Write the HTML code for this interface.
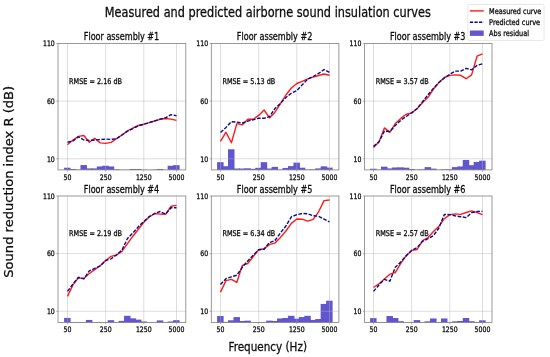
<!DOCTYPE html>
<html lang="en"><head><meta charset="utf-8"><title>Measured and predicted airborne sound insulation curves</title>
<style>html,body{margin:0;padding:0;background:#fff}svg{display:block}text{font-family:'DejaVu Sans', 'Liberation Sans', sans-serif;fill:#0c0c0c;stroke:#0c0c0c;stroke-width:0.3px}</style></head><body>
<svg width="550" height="357" viewBox="0 0 550 357">
<rect width="550" height="357" fill="#fff"/>
<g><rect x="64.10" y="167.71" width="6.5" height="2.19" fill="#6256cf"/><rect x="69.55" y="168.98" width="6.5" height="0.92" fill="#6256cf"/><rect x="75.00" y="169.55" width="6.5" height="0.35" fill="#6256cf"/><rect x="80.45" y="165.06" width="6.5" height="4.84" fill="#6256cf"/><rect x="85.90" y="168.40" width="6.5" height="1.50" fill="#6256cf"/><rect x="91.35" y="168.40" width="6.5" height="1.50" fill="#6256cf"/><rect x="96.80" y="166.44" width="6.5" height="3.46" fill="#6256cf"/><rect x="102.25" y="165.75" width="6.5" height="4.15" fill="#6256cf"/><rect x="107.70" y="166.44" width="6.5" height="3.46" fill="#6256cf"/><rect x="113.15" y="169.32" width="6.5" height="0.58" fill="#6256cf"/><rect x="118.60" y="169.67" width="6.5" height="0.23" fill="#6256cf"/><rect x="124.05" y="169.67" width="6.5" height="0.23" fill="#6256cf"/><rect x="129.50" y="168.98" width="6.5" height="0.92" fill="#6256cf"/><rect x="134.95" y="168.98" width="6.5" height="0.92" fill="#6256cf"/><rect x="140.40" y="169.67" width="6.5" height="0.23" fill="#6256cf"/><rect x="145.85" y="169.78" width="6.5" height="0.12" fill="#6256cf"/><rect x="151.30" y="169.55" width="6.5" height="0.35" fill="#6256cf"/><rect x="156.75" y="168.98" width="6.5" height="0.92" fill="#6256cf"/><rect x="162.20" y="169.78" width="6.5" height="0.12" fill="#6256cf"/><rect x="167.65" y="165.75" width="6.5" height="4.15" fill="#6256cf"/><rect x="173.10" y="165.17" width="6.5" height="4.73" fill="#6256cf"/><line x1="67.50" y1="43.5" x2="67.50" y2="169.9" stroke="#b0b0b0" stroke-opacity="0.55" stroke-width="0.8"/><line x1="105.65" y1="43.5" x2="105.65" y2="169.9" stroke="#b0b0b0" stroke-opacity="0.55" stroke-width="0.8"/><line x1="143.80" y1="43.5" x2="143.80" y2="169.9" stroke="#b0b0b0" stroke-opacity="0.55" stroke-width="0.8"/><line x1="176.50" y1="43.5" x2="176.50" y2="169.9" stroke="#b0b0b0" stroke-opacity="0.55" stroke-width="0.8"/><line x1="58.0" y1="158.77" x2="185.8" y2="158.77" stroke="#b0b0b0" stroke-opacity="0.55" stroke-width="0.8"/><line x1="58.0" y1="101.12" x2="185.8" y2="101.12" stroke="#b0b0b0" stroke-opacity="0.55" stroke-width="0.8"/><polyline points="67.50,144.7 72.95,140.0 78.40,136.4 83.85,135.5 89.30,142.3 94.75,138.3 100.20,142.9 105.65,143.4 111.10,142.4 116.55,138.7 122.00,135.0 127.45,130.9 132.90,128.0 138.35,125.5 143.80,124.2 149.25,122.7 154.70,121.0 160.15,119.3 165.60,118.5 171.05,119.1 176.50,120.4" fill="none" stroke="#ff1a1a" stroke-width="1.4" stroke-linejoin="round" stroke-linecap="butt"/><polyline points="67.50,142.3 72.95,141.0 78.40,136.8 83.85,140.0 89.30,140.4 94.75,140.0 100.20,139.6 105.65,139.1 111.10,139.4 116.55,138.7 122.00,135.0 127.45,131.2 132.90,128.6 138.35,125.8 143.80,124.2 149.25,122.7 154.70,120.8 160.15,119.1 165.60,117.8 171.05,114.6 176.50,115.7" fill="none" stroke="#0a0a8c" stroke-width="1.4" stroke-dasharray="3.7 1.5" stroke-linejoin="round"/><rect x="58.0" y="43.5" width="127.80" height="126.40" fill="none" stroke="#808080" stroke-width="0.8"/><line x1="67.50" y1="169.9" x2="67.50" y2="171.70000000000002" stroke="#808080" stroke-width="0.6"/><text transform="translate(67.50 179.70) scale(0.82 1)" font-size="7.6" text-anchor="middle">50</text><line x1="105.65" y1="169.9" x2="105.65" y2="171.70000000000002" stroke="#808080" stroke-width="0.6"/><text transform="translate(105.65 179.70) scale(0.82 1)" font-size="7.6" text-anchor="middle">250</text><line x1="143.80" y1="169.9" x2="143.80" y2="171.70000000000002" stroke="#808080" stroke-width="0.6"/><text transform="translate(143.80 179.70) scale(0.82 1)" font-size="7.6" text-anchor="middle">1250</text><line x1="176.50" y1="169.9" x2="176.50" y2="171.70000000000002" stroke="#808080" stroke-width="0.6"/><text transform="translate(176.50 179.70) scale(0.82 1)" font-size="7.6" text-anchor="middle">5000</text><line x1="56.2" y1="158.77" x2="58.0" y2="158.77" stroke="#808080" stroke-width="0.6"/><text transform="translate(54.80 161.57) scale(0.82 1)" font-size="7.6" text-anchor="end">10</text><line x1="56.2" y1="101.12" x2="58.0" y2="101.12" stroke="#808080" stroke-width="0.6"/><text transform="translate(54.80 103.92) scale(0.82 1)" font-size="7.6" text-anchor="end">60</text><line x1="56.2" y1="43.47" x2="58.0" y2="43.47" stroke="#808080" stroke-width="0.6"/><text transform="translate(54.80 46.27) scale(0.82 1)" font-size="7.6" text-anchor="end">110</text><text transform="translate(121.50 40.10) scale(0.81 1)" font-size="10.0" text-anchor="middle">Floor assembly #1</text><text transform="translate(69.10 83.80) scale(0.822 1)" font-size="7.9" text-anchor="start">RMSE = 2.16 dB</text></g>
<g><rect x="217.10" y="162.17" width="6.5" height="7.73" fill="#6256cf"/><rect x="222.55" y="166.21" width="6.5" height="3.69" fill="#6256cf"/><rect x="228.00" y="149.26" width="6.5" height="20.64" fill="#6256cf"/><rect x="233.45" y="168.52" width="6.5" height="1.38" fill="#6256cf"/><rect x="238.90" y="168.52" width="6.5" height="1.38" fill="#6256cf"/><rect x="244.35" y="168.29" width="6.5" height="1.61" fill="#6256cf"/><rect x="249.80" y="168.86" width="6.5" height="1.04" fill="#6256cf"/><rect x="255.25" y="167.82" width="6.5" height="2.08" fill="#6256cf"/><rect x="260.70" y="162.17" width="6.5" height="7.73" fill="#6256cf"/><rect x="266.15" y="168.52" width="6.5" height="1.38" fill="#6256cf"/><rect x="271.60" y="166.90" width="6.5" height="3.00" fill="#6256cf"/><rect x="277.05" y="169.55" width="6.5" height="0.35" fill="#6256cf"/><rect x="282.50" y="167.94" width="6.5" height="1.96" fill="#6256cf"/><rect x="287.95" y="166.10" width="6.5" height="3.80" fill="#6256cf"/><rect x="293.40" y="162.64" width="6.5" height="7.26" fill="#6256cf"/><rect x="298.85" y="167.71" width="6.5" height="2.19" fill="#6256cf"/><rect x="304.30" y="169.55" width="6.5" height="0.35" fill="#6256cf"/><rect x="309.75" y="169.32" width="6.5" height="0.58" fill="#6256cf"/><rect x="315.20" y="168.40" width="6.5" height="1.50" fill="#6256cf"/><rect x="320.65" y="166.33" width="6.5" height="3.57" fill="#6256cf"/><rect x="326.10" y="167.59" width="6.5" height="2.31" fill="#6256cf"/><line x1="220.50" y1="43.5" x2="220.50" y2="169.9" stroke="#b0b0b0" stroke-opacity="0.55" stroke-width="0.8"/><line x1="258.65" y1="43.5" x2="258.65" y2="169.9" stroke="#b0b0b0" stroke-opacity="0.55" stroke-width="0.8"/><line x1="296.80" y1="43.5" x2="296.80" y2="169.9" stroke="#b0b0b0" stroke-opacity="0.55" stroke-width="0.8"/><line x1="329.50" y1="43.5" x2="329.50" y2="169.9" stroke="#b0b0b0" stroke-opacity="0.55" stroke-width="0.8"/><line x1="211.3" y1="158.77" x2="338.9" y2="158.77" stroke="#b0b0b0" stroke-opacity="0.55" stroke-width="0.8"/><line x1="211.3" y1="101.12" x2="338.9" y2="101.12" stroke="#b0b0b0" stroke-opacity="0.55" stroke-width="0.8"/><polyline points="220.50,141.4 225.95,132.2 231.40,142.8 236.85,123.6 242.30,124.9 247.75,119.2 253.20,119.2 258.65,115.4 264.10,110.0 269.55,117.9 275.00,112.2 280.45,103.6 285.90,95.0 291.35,88.0 296.80,83.5 302.25,81.4 307.70,78.8 313.15,77.2 318.60,75.5 324.05,74.0 329.50,75.3" fill="none" stroke="#ff1a1a" stroke-width="1.4" stroke-linejoin="round" stroke-linecap="butt"/><polyline points="220.50,132.4 225.95,127.5 231.40,121.7 236.85,122.1 242.30,123.0 247.75,121.1 253.20,119.8 258.65,118.2 264.10,118.3 269.55,116.6 275.00,108.4 280.45,103.3 285.90,97.5 291.35,93.3 296.80,90.5 302.25,84.8 307.70,79.1 313.15,76.5 318.60,73.4 324.05,69.5 329.50,72.5" fill="none" stroke="#0a0a8c" stroke-width="1.4" stroke-dasharray="3.7 1.5" stroke-linejoin="round"/><rect x="211.3" y="43.5" width="127.60" height="126.40" fill="none" stroke="#808080" stroke-width="0.8"/><line x1="220.50" y1="169.9" x2="220.50" y2="171.70000000000002" stroke="#808080" stroke-width="0.6"/><text transform="translate(220.50 179.70) scale(0.82 1)" font-size="7.6" text-anchor="middle">50</text><line x1="258.65" y1="169.9" x2="258.65" y2="171.70000000000002" stroke="#808080" stroke-width="0.6"/><text transform="translate(258.65 179.70) scale(0.82 1)" font-size="7.6" text-anchor="middle">250</text><line x1="296.80" y1="169.9" x2="296.80" y2="171.70000000000002" stroke="#808080" stroke-width="0.6"/><text transform="translate(296.80 179.70) scale(0.82 1)" font-size="7.6" text-anchor="middle">1250</text><line x1="329.50" y1="169.9" x2="329.50" y2="171.70000000000002" stroke="#808080" stroke-width="0.6"/><text transform="translate(329.50 179.70) scale(0.82 1)" font-size="7.6" text-anchor="middle">5000</text><line x1="209.5" y1="158.77" x2="211.3" y2="158.77" stroke="#808080" stroke-width="0.6"/><text transform="translate(208.10 161.57) scale(0.82 1)" font-size="7.6" text-anchor="end">10</text><line x1="209.5" y1="101.12" x2="211.3" y2="101.12" stroke="#808080" stroke-width="0.6"/><text transform="translate(208.10 103.92) scale(0.82 1)" font-size="7.6" text-anchor="end">60</text><line x1="209.5" y1="43.47" x2="211.3" y2="43.47" stroke="#808080" stroke-width="0.6"/><text transform="translate(208.10 46.27) scale(0.82 1)" font-size="7.6" text-anchor="end">110</text><text transform="translate(274.58 40.10) scale(0.81 1)" font-size="10.0" text-anchor="middle">Floor assembly #2</text><text transform="translate(222.40 83.80) scale(0.822 1)" font-size="7.9" text-anchor="start">RMSE = 5.13 dB</text></g>
<g><rect x="370.10" y="168.75" width="6.5" height="1.15" fill="#6256cf"/><rect x="375.55" y="169.67" width="6.5" height="0.23" fill="#6256cf"/><rect x="381.00" y="166.67" width="6.5" height="3.23" fill="#6256cf"/><rect x="386.45" y="168.40" width="6.5" height="1.50" fill="#6256cf"/><rect x="391.90" y="167.48" width="6.5" height="2.42" fill="#6256cf"/><rect x="397.35" y="167.36" width="6.5" height="2.54" fill="#6256cf"/><rect x="402.80" y="167.71" width="6.5" height="2.19" fill="#6256cf"/><rect x="408.25" y="168.98" width="6.5" height="0.92" fill="#6256cf"/><rect x="413.70" y="169.55" width="6.5" height="0.35" fill="#6256cf"/><rect x="419.15" y="169.32" width="6.5" height="0.58" fill="#6256cf"/><rect x="424.60" y="167.13" width="6.5" height="2.77" fill="#6256cf"/><rect x="430.05" y="168.63" width="6.5" height="1.27" fill="#6256cf"/><rect x="435.50" y="169.67" width="6.5" height="0.23" fill="#6256cf"/><rect x="440.95" y="169.32" width="6.5" height="0.58" fill="#6256cf"/><rect x="446.40" y="169.32" width="6.5" height="0.58" fill="#6256cf"/><rect x="451.85" y="167.13" width="6.5" height="2.77" fill="#6256cf"/><rect x="457.30" y="166.44" width="6.5" height="3.46" fill="#6256cf"/><rect x="462.75" y="159.98" width="6.5" height="9.92" fill="#6256cf"/><rect x="468.20" y="165.17" width="6.5" height="4.73" fill="#6256cf"/><rect x="473.65" y="161.94" width="6.5" height="7.96" fill="#6256cf"/><rect x="479.10" y="160.68" width="6.5" height="9.22" fill="#6256cf"/><line x1="373.50" y1="43.5" x2="373.50" y2="169.9" stroke="#b0b0b0" stroke-opacity="0.55" stroke-width="0.8"/><line x1="411.65" y1="43.5" x2="411.65" y2="169.9" stroke="#b0b0b0" stroke-opacity="0.55" stroke-width="0.8"/><line x1="449.80" y1="43.5" x2="449.80" y2="169.9" stroke="#b0b0b0" stroke-opacity="0.55" stroke-width="0.8"/><line x1="482.50" y1="43.5" x2="482.50" y2="169.9" stroke="#b0b0b0" stroke-opacity="0.55" stroke-width="0.8"/><line x1="364.6" y1="158.77" x2="492.0" y2="158.77" stroke="#b0b0b0" stroke-opacity="0.55" stroke-width="0.8"/><line x1="364.6" y1="101.12" x2="492.0" y2="101.12" stroke="#b0b0b0" stroke-opacity="0.55" stroke-width="0.8"/><polyline points="373.50,147.6 378.95,141.9 384.40,127.9 389.85,132.4 395.30,123.5 400.75,118.4 406.20,114.2 411.65,112.9 417.10,108.7 422.55,102.6 428.00,97.3 433.45,89.0 438.90,82.6 444.35,77.5 449.80,75.4 455.25,74.9 460.70,75.3 466.15,78.7 471.60,74.9 477.05,56.2 482.50,53.9" fill="none" stroke="#ff1a1a" stroke-width="1.4" stroke-linejoin="round" stroke-linecap="butt"/><polyline points="373.50,146.4 378.95,141.9 384.40,131.1 389.85,131.5 395.30,125.4 400.75,120.3 406.20,116.5 411.65,112.9 417.10,108.5 422.55,101.8 428.00,94.7 433.45,88.4 438.90,82.5 444.35,78.0 449.80,74.3 455.25,71.1 460.70,71.1 466.15,68.3 471.60,69.8 477.05,65.4 482.50,63.8" fill="none" stroke="#0a0a8c" stroke-width="1.4" stroke-dasharray="3.7 1.5" stroke-linejoin="round"/><rect x="364.6" y="43.5" width="127.40" height="126.40" fill="none" stroke="#808080" stroke-width="0.8"/><line x1="373.50" y1="169.9" x2="373.50" y2="171.70000000000002" stroke="#808080" stroke-width="0.6"/><text transform="translate(373.50 179.70) scale(0.82 1)" font-size="7.6" text-anchor="middle">50</text><line x1="411.65" y1="169.9" x2="411.65" y2="171.70000000000002" stroke="#808080" stroke-width="0.6"/><text transform="translate(411.65 179.70) scale(0.82 1)" font-size="7.6" text-anchor="middle">250</text><line x1="449.80" y1="169.9" x2="449.80" y2="171.70000000000002" stroke="#808080" stroke-width="0.6"/><text transform="translate(449.80 179.70) scale(0.82 1)" font-size="7.6" text-anchor="middle">1250</text><line x1="482.50" y1="169.9" x2="482.50" y2="171.70000000000002" stroke="#808080" stroke-width="0.6"/><text transform="translate(482.50 179.70) scale(0.82 1)" font-size="7.6" text-anchor="middle">5000</text><line x1="362.8" y1="158.77" x2="364.6" y2="158.77" stroke="#808080" stroke-width="0.6"/><text transform="translate(361.40 161.57) scale(0.82 1)" font-size="7.6" text-anchor="end">10</text><line x1="362.8" y1="101.12" x2="364.6" y2="101.12" stroke="#808080" stroke-width="0.6"/><text transform="translate(361.40 103.92) scale(0.82 1)" font-size="7.6" text-anchor="end">60</text><line x1="362.8" y1="43.47" x2="364.6" y2="43.47" stroke="#808080" stroke-width="0.6"/><text transform="translate(361.40 46.27) scale(0.82 1)" font-size="7.6" text-anchor="end">110</text><text transform="translate(427.66 40.10) scale(0.81 1)" font-size="10.0" text-anchor="middle">Floor assembly #3</text><text transform="translate(375.70 83.80) scale(0.822 1)" font-size="7.9" text-anchor="start">RMSE = 3.57 dB</text></g>
<g><rect x="64.10" y="317.89" width="6.5" height="4.61" fill="#6256cf"/><rect x="69.55" y="322.15" width="6.5" height="0.35" fill="#6256cf"/><rect x="75.00" y="322.15" width="6.5" height="0.35" fill="#6256cf"/><rect x="80.45" y="322.15" width="6.5" height="0.35" fill="#6256cf"/><rect x="85.90" y="319.96" width="6.5" height="2.54" fill="#6256cf"/><rect x="91.35" y="322.15" width="6.5" height="0.35" fill="#6256cf"/><rect x="96.80" y="322.27" width="6.5" height="0.23" fill="#6256cf"/><rect x="102.25" y="322.27" width="6.5" height="0.23" fill="#6256cf"/><rect x="107.70" y="320.19" width="6.5" height="2.31" fill="#6256cf"/><rect x="113.15" y="322.15" width="6.5" height="0.35" fill="#6256cf"/><rect x="118.60" y="320.89" width="6.5" height="1.61" fill="#6256cf"/><rect x="124.05" y="315.81" width="6.5" height="6.69" fill="#6256cf"/><rect x="129.50" y="318.35" width="6.5" height="4.15" fill="#6256cf"/><rect x="134.95" y="319.62" width="6.5" height="2.88" fill="#6256cf"/><rect x="140.40" y="321.46" width="6.5" height="1.04" fill="#6256cf"/><rect x="145.85" y="322.27" width="6.5" height="0.23" fill="#6256cf"/><rect x="151.30" y="322.27" width="6.5" height="0.23" fill="#6256cf"/><rect x="156.75" y="320.42" width="6.5" height="2.08" fill="#6256cf"/><rect x="162.20" y="322.27" width="6.5" height="0.23" fill="#6256cf"/><rect x="167.65" y="321.46" width="6.5" height="1.04" fill="#6256cf"/><rect x="173.10" y="320.19" width="6.5" height="2.31" fill="#6256cf"/><line x1="67.50" y1="196.0" x2="67.50" y2="322.5" stroke="#b0b0b0" stroke-opacity="0.55" stroke-width="0.8"/><line x1="105.65" y1="196.0" x2="105.65" y2="322.5" stroke="#b0b0b0" stroke-opacity="0.55" stroke-width="0.8"/><line x1="143.80" y1="196.0" x2="143.80" y2="322.5" stroke="#b0b0b0" stroke-opacity="0.55" stroke-width="0.8"/><line x1="176.50" y1="196.0" x2="176.50" y2="322.5" stroke="#b0b0b0" stroke-opacity="0.55" stroke-width="0.8"/><line x1="58.0" y1="311.27" x2="185.8" y2="311.27" stroke="#b0b0b0" stroke-opacity="0.55" stroke-width="0.8"/><line x1="58.0" y1="253.62" x2="185.8" y2="253.62" stroke="#b0b0b0" stroke-opacity="0.55" stroke-width="0.8"/><polyline points="67.50,296.4 72.95,284.9 78.40,277.9 83.85,278.5 89.30,273.5 94.75,269.6 100.20,265.8 105.65,260.5 111.10,256.3 116.55,254.8 122.00,251.3 127.45,243.6 132.90,236.2 138.35,229.2 143.80,222.3 149.25,217.0 154.70,213.5 160.15,214.1 165.60,214.3 171.05,206.2 176.50,205.4" fill="none" stroke="#ff1a1a" stroke-width="1.4" stroke-linejoin="round" stroke-linecap="butt"/><polyline points="67.50,291.3 72.95,284.0 78.40,277.3 83.85,278.9 89.30,270.9 94.75,268.4 100.20,265.8 105.65,260.5 111.10,258.8 116.55,255.0 122.00,250.0 127.45,238.5 132.90,233.0 138.35,226.7 143.80,221.5 149.25,216.6 154.70,213.5 160.15,211.5 165.60,214.1 171.05,207.7 176.50,207.7" fill="none" stroke="#0a0a8c" stroke-width="1.4" stroke-dasharray="3.7 1.5" stroke-linejoin="round"/><rect x="58.0" y="196.0" width="127.80" height="126.50" fill="none" stroke="#808080" stroke-width="0.8"/><line x1="67.50" y1="322.5" x2="67.50" y2="324.3" stroke="#808080" stroke-width="0.6"/><text transform="translate(67.50 332.30) scale(0.82 1)" font-size="7.6" text-anchor="middle">50</text><line x1="105.65" y1="322.5" x2="105.65" y2="324.3" stroke="#808080" stroke-width="0.6"/><text transform="translate(105.65 332.30) scale(0.82 1)" font-size="7.6" text-anchor="middle">250</text><line x1="143.80" y1="322.5" x2="143.80" y2="324.3" stroke="#808080" stroke-width="0.6"/><text transform="translate(143.80 332.30) scale(0.82 1)" font-size="7.6" text-anchor="middle">1250</text><line x1="176.50" y1="322.5" x2="176.50" y2="324.3" stroke="#808080" stroke-width="0.6"/><text transform="translate(176.50 332.30) scale(0.82 1)" font-size="7.6" text-anchor="middle">5000</text><line x1="56.2" y1="311.27" x2="58.0" y2="311.27" stroke="#808080" stroke-width="0.6"/><text transform="translate(54.80 314.07) scale(0.82 1)" font-size="7.6" text-anchor="end">10</text><line x1="56.2" y1="253.62" x2="58.0" y2="253.62" stroke="#808080" stroke-width="0.6"/><text transform="translate(54.80 256.42) scale(0.82 1)" font-size="7.6" text-anchor="end">60</text><line x1="56.2" y1="195.97" x2="58.0" y2="195.97" stroke="#808080" stroke-width="0.6"/><text transform="translate(54.80 198.77) scale(0.82 1)" font-size="7.6" text-anchor="end">110</text><text transform="translate(121.50 192.60) scale(0.81 1)" font-size="10.0" text-anchor="middle">Floor assembly #4</text><text transform="translate(69.10 236.30) scale(0.822 1)" font-size="7.9" text-anchor="start">RMSE = 2.19 dB</text></g>
<g><rect x="217.10" y="316.04" width="6.5" height="6.46" fill="#6256cf"/><rect x="222.55" y="321.92" width="6.5" height="0.58" fill="#6256cf"/><rect x="228.00" y="320.31" width="6.5" height="2.19" fill="#6256cf"/><rect x="233.45" y="317.08" width="6.5" height="5.42" fill="#6256cf"/><rect x="238.90" y="321.00" width="6.5" height="1.50" fill="#6256cf"/><rect x="244.35" y="320.66" width="6.5" height="1.84" fill="#6256cf"/><rect x="249.80" y="322.27" width="6.5" height="0.23" fill="#6256cf"/><rect x="255.25" y="322.27" width="6.5" height="0.23" fill="#6256cf"/><rect x="260.70" y="322.04" width="6.5" height="0.46" fill="#6256cf"/><rect x="266.15" y="320.66" width="6.5" height="1.84" fill="#6256cf"/><rect x="271.60" y="321.00" width="6.5" height="1.50" fill="#6256cf"/><rect x="277.05" y="318.46" width="6.5" height="4.04" fill="#6256cf"/><rect x="282.50" y="318.00" width="6.5" height="4.50" fill="#6256cf"/><rect x="287.95" y="315.81" width="6.5" height="6.69" fill="#6256cf"/><rect x="293.40" y="318.70" width="6.5" height="3.80" fill="#6256cf"/><rect x="298.85" y="317.08" width="6.5" height="5.42" fill="#6256cf"/><rect x="304.30" y="315.81" width="6.5" height="6.69" fill="#6256cf"/><rect x="309.75" y="319.96" width="6.5" height="2.54" fill="#6256cf"/><rect x="315.20" y="319.04" width="6.5" height="3.46" fill="#6256cf"/><rect x="320.65" y="303.94" width="6.5" height="18.56" fill="#6256cf"/><rect x="326.10" y="300.71" width="6.5" height="21.79" fill="#6256cf"/><line x1="220.50" y1="196.0" x2="220.50" y2="322.5" stroke="#b0b0b0" stroke-opacity="0.55" stroke-width="0.8"/><line x1="258.65" y1="196.0" x2="258.65" y2="322.5" stroke="#b0b0b0" stroke-opacity="0.55" stroke-width="0.8"/><line x1="296.80" y1="196.0" x2="296.80" y2="322.5" stroke="#b0b0b0" stroke-opacity="0.55" stroke-width="0.8"/><line x1="329.50" y1="196.0" x2="329.50" y2="322.5" stroke="#b0b0b0" stroke-opacity="0.55" stroke-width="0.8"/><line x1="211.3" y1="311.27" x2="338.9" y2="311.27" stroke="#b0b0b0" stroke-opacity="0.55" stroke-width="0.8"/><line x1="211.3" y1="253.62" x2="338.9" y2="253.62" stroke="#b0b0b0" stroke-opacity="0.55" stroke-width="0.8"/><polyline points="220.50,292.1 225.95,280.6 231.40,279.4 236.85,282.3 242.30,265.4 247.75,263.5 253.20,256.5 258.65,249.8 264.10,248.8 269.55,244.4 275.00,243.1 280.45,237.4 285.90,231.0 291.35,223.4 296.80,219.0 302.25,219.2 307.70,221.2 313.15,219.3 318.60,211.8 324.05,200.6 329.50,200.0" fill="none" stroke="#ff1a1a" stroke-width="1.4" stroke-linejoin="round" stroke-linecap="butt"/><polyline points="220.50,284.5 225.95,278.7 231.40,276.8 236.85,275.2 242.30,267.3 247.75,260.9 253.20,255.2 258.65,249.8 264.10,249.2 269.55,242.5 275.00,240.5 280.45,232.9 285.90,226.0 291.35,216.8 296.80,214.7 302.25,213.5 307.70,213.7 313.15,215.7 318.60,216.3 324.05,219.1 329.50,222.0" fill="none" stroke="#0a0a8c" stroke-width="1.4" stroke-dasharray="3.7 1.5" stroke-linejoin="round"/><rect x="211.3" y="196.0" width="127.60" height="126.50" fill="none" stroke="#808080" stroke-width="0.8"/><line x1="220.50" y1="322.5" x2="220.50" y2="324.3" stroke="#808080" stroke-width="0.6"/><text transform="translate(220.50 332.30) scale(0.82 1)" font-size="7.6" text-anchor="middle">50</text><line x1="258.65" y1="322.5" x2="258.65" y2="324.3" stroke="#808080" stroke-width="0.6"/><text transform="translate(258.65 332.30) scale(0.82 1)" font-size="7.6" text-anchor="middle">250</text><line x1="296.80" y1="322.5" x2="296.80" y2="324.3" stroke="#808080" stroke-width="0.6"/><text transform="translate(296.80 332.30) scale(0.82 1)" font-size="7.6" text-anchor="middle">1250</text><line x1="329.50" y1="322.5" x2="329.50" y2="324.3" stroke="#808080" stroke-width="0.6"/><text transform="translate(329.50 332.30) scale(0.82 1)" font-size="7.6" text-anchor="middle">5000</text><line x1="209.5" y1="311.27" x2="211.3" y2="311.27" stroke="#808080" stroke-width="0.6"/><text transform="translate(208.10 314.07) scale(0.82 1)" font-size="7.6" text-anchor="end">10</text><line x1="209.5" y1="253.62" x2="211.3" y2="253.62" stroke="#808080" stroke-width="0.6"/><text transform="translate(208.10 256.42) scale(0.82 1)" font-size="7.6" text-anchor="end">60</text><line x1="209.5" y1="195.97" x2="211.3" y2="195.97" stroke="#808080" stroke-width="0.6"/><text transform="translate(208.10 198.77) scale(0.82 1)" font-size="7.6" text-anchor="end">110</text><text transform="translate(274.58 192.60) scale(0.81 1)" font-size="10.0" text-anchor="middle">Floor assembly #5</text><text transform="translate(222.40 236.30) scale(0.822 1)" font-size="7.9" text-anchor="start">RMSE = 6.34 dB</text></g>
<g><rect x="370.10" y="318.12" width="6.5" height="4.38" fill="#6256cf"/><rect x="375.55" y="322.15" width="6.5" height="0.35" fill="#6256cf"/><rect x="381.00" y="322.04" width="6.5" height="0.46" fill="#6256cf"/><rect x="386.45" y="316.04" width="6.5" height="6.46" fill="#6256cf"/><rect x="391.90" y="318.00" width="6.5" height="4.50" fill="#6256cf"/><rect x="397.35" y="321.23" width="6.5" height="1.27" fill="#6256cf"/><rect x="402.80" y="322.27" width="6.5" height="0.23" fill="#6256cf"/><rect x="408.25" y="322.27" width="6.5" height="0.23" fill="#6256cf"/><rect x="413.70" y="320.08" width="6.5" height="2.42" fill="#6256cf"/><rect x="419.15" y="322.15" width="6.5" height="0.35" fill="#6256cf"/><rect x="424.60" y="321.35" width="6.5" height="1.15" fill="#6256cf"/><rect x="430.05" y="318.46" width="6.5" height="4.04" fill="#6256cf"/><rect x="435.50" y="322.04" width="6.5" height="0.46" fill="#6256cf"/><rect x="440.95" y="318.46" width="6.5" height="4.04" fill="#6256cf"/><rect x="446.40" y="322.27" width="6.5" height="0.23" fill="#6256cf"/><rect x="451.85" y="321.35" width="6.5" height="1.15" fill="#6256cf"/><rect x="457.30" y="321.00" width="6.5" height="1.50" fill="#6256cf"/><rect x="462.75" y="318.00" width="6.5" height="4.50" fill="#6256cf"/><rect x="468.20" y="321.23" width="6.5" height="1.27" fill="#6256cf"/><rect x="473.65" y="322.04" width="6.5" height="0.46" fill="#6256cf"/><rect x="479.10" y="320.31" width="6.5" height="2.19" fill="#6256cf"/><line x1="373.50" y1="196.0" x2="373.50" y2="322.5" stroke="#b0b0b0" stroke-opacity="0.55" stroke-width="0.8"/><line x1="411.65" y1="196.0" x2="411.65" y2="322.5" stroke="#b0b0b0" stroke-opacity="0.55" stroke-width="0.8"/><line x1="449.80" y1="196.0" x2="449.80" y2="322.5" stroke="#b0b0b0" stroke-opacity="0.55" stroke-width="0.8"/><line x1="482.50" y1="196.0" x2="482.50" y2="322.5" stroke="#b0b0b0" stroke-opacity="0.55" stroke-width="0.8"/><line x1="364.6" y1="311.27" x2="492.0" y2="311.27" stroke="#b0b0b0" stroke-opacity="0.55" stroke-width="0.8"/><line x1="364.6" y1="253.62" x2="492.0" y2="253.62" stroke="#b0b0b0" stroke-opacity="0.55" stroke-width="0.8"/><polyline points="373.50,287.5 378.95,283.7 384.40,279.0 389.85,274.2 395.30,272.7 400.75,263.4 406.20,255.7 411.65,250.4 417.10,249.5 422.55,240.6 428.00,237.5 433.45,231.5 438.90,226.3 444.35,218.7 449.80,214.6 455.25,213.9 460.70,214.4 466.15,212.5 471.60,210.9 477.05,212.6 482.50,214.7" fill="none" stroke="#ff1a1a" stroke-width="1.4" stroke-linejoin="round" stroke-linecap="butt"/><polyline points="373.50,291.4 378.95,285.0 384.40,279.3 389.85,281.2 395.30,267.2 400.75,262.1 406.20,255.7 411.65,250.4 417.10,247.6 422.55,241.3 428.00,238.7 433.45,235.6 438.90,228.0 444.35,214.4 449.80,214.6 455.25,215.9 460.70,216.7 466.15,217.6 471.60,212.6 477.05,211.5 482.50,211.3" fill="none" stroke="#0a0a8c" stroke-width="1.4" stroke-dasharray="3.7 1.5" stroke-linejoin="round"/><rect x="364.6" y="196.0" width="127.40" height="126.50" fill="none" stroke="#808080" stroke-width="0.8"/><line x1="373.50" y1="322.5" x2="373.50" y2="324.3" stroke="#808080" stroke-width="0.6"/><text transform="translate(373.50 332.30) scale(0.82 1)" font-size="7.6" text-anchor="middle">50</text><line x1="411.65" y1="322.5" x2="411.65" y2="324.3" stroke="#808080" stroke-width="0.6"/><text transform="translate(411.65 332.30) scale(0.82 1)" font-size="7.6" text-anchor="middle">250</text><line x1="449.80" y1="322.5" x2="449.80" y2="324.3" stroke="#808080" stroke-width="0.6"/><text transform="translate(449.80 332.30) scale(0.82 1)" font-size="7.6" text-anchor="middle">1250</text><line x1="482.50" y1="322.5" x2="482.50" y2="324.3" stroke="#808080" stroke-width="0.6"/><text transform="translate(482.50 332.30) scale(0.82 1)" font-size="7.6" text-anchor="middle">5000</text><line x1="362.8" y1="311.27" x2="364.6" y2="311.27" stroke="#808080" stroke-width="0.6"/><text transform="translate(361.40 314.07) scale(0.82 1)" font-size="7.6" text-anchor="end">10</text><line x1="362.8" y1="253.62" x2="364.6" y2="253.62" stroke="#808080" stroke-width="0.6"/><text transform="translate(361.40 256.42) scale(0.82 1)" font-size="7.6" text-anchor="end">60</text><line x1="362.8" y1="195.97" x2="364.6" y2="195.97" stroke="#808080" stroke-width="0.6"/><text transform="translate(361.40 198.77) scale(0.82 1)" font-size="7.6" text-anchor="end">110</text><text transform="translate(427.66 192.60) scale(0.81 1)" font-size="10.0" text-anchor="middle">Floor assembly #6</text><text transform="translate(375.70 236.30) scale(0.822 1)" font-size="7.9" text-anchor="start">RMSE = 2.57 dB</text></g>
<text transform="translate(267.85 17.35) scale(0.82 1)" font-size="13.8" text-anchor="middle">Measured and predicted airborne sound insulation curves</text>
<text transform="translate(267.70 351.40) scale(0.803 1)" font-size="13.0" text-anchor="middle">Frequency (Hz)</text>
<text transform="translate(13.4 181.8) scale(0.875 1) rotate(-90)" font-size="13.08" text-anchor="middle">Sound reduction index R (dB)</text>
<g><rect x="467.8" y="4.5" width="76.3" height="36.1" rx="1.6" fill="#fff" fill-opacity="0.8" stroke="#dcdcdc" stroke-width="0.7"/>
<line x1="469.9" y1="10.9" x2="483.7" y2="10.9" stroke="#ff1a1a" stroke-width="1.4"/>
<line x1="469.9" y1="22.3" x2="483.7" y2="22.3" stroke="#0a0a8c" stroke-width="1.4" stroke-dasharray="3.25 1.3"/>
<rect x="469.9" y="30.5" width="13.8" height="5.4" fill="#6256cf"/>
<text transform="translate(489.10 13.60) scale(0.816 1)" font-size="8.0" text-anchor="start">Measured curve</text>
<text transform="translate(489.10 24.80) scale(0.816 1)" font-size="8.0" text-anchor="start">Predicted curve</text>
<text transform="translate(489.10 35.90) scale(0.816 1)" font-size="8.0" text-anchor="start">Abs residual</text>
</g>
</svg></body></html>
